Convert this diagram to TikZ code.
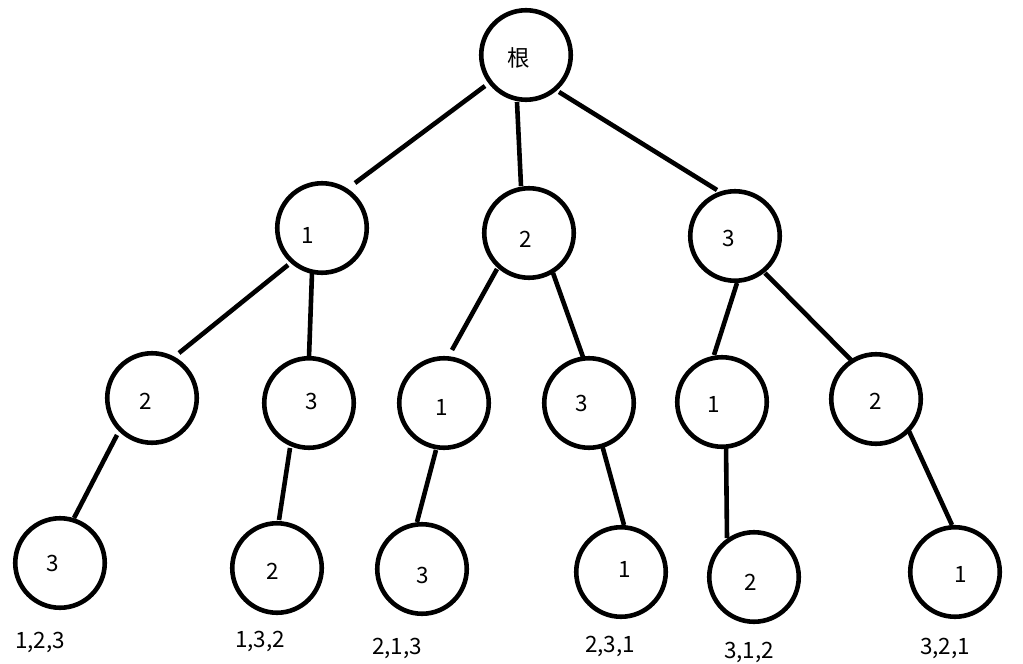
\documentclass[tikz,border=0pt]{standalone}
\usepackage{fontspec}
\setmainfont{Noto Sans CJK SC}
\usetikzlibrary{calc}
\begin{document}
\begin{tikzpicture}[x=1pt,y=-1pt,
  vtx/.style={circle,draw,line width=4.6pt,minimum size=89.5pt,inner sep=0pt,outer sep=0pt},
  edge/.style={line width=4.6pt},
  txt/.style={font=\fontsize{22.5}{26}\selectfont,inner sep=0pt},
  seq/.style={font=\fontsize{22.5}{26}\selectfont,anchor=base,inner sep=0pt}]
\useasboundingbox[fill=white] (0,0) rectangle (1023,664);
% level 0
\node[vtx,label={[txt,xshift=-7pt,yshift=-3pt]center:根}] (root) at (526,55) {};
% level 1
\node[vtx,label={[txt,xshift=-14pt,yshift=-7pt]center:1}] (a1) at (322,228) {};
\node[vtx,label={[txt,xshift=-3pt,yshift=-6pt]center:2}] (a2) at (529,233) {};
\node[vtx,label={[txt,xshift=-6pt,yshift=-2pt]center:3}] (a3) at (735,236) {};
% level 2
\node[vtx,label={[txt,xshift=-6pt,yshift=-3pt]center:2}] (b1) at (152,398) {};
\node[vtx,label={[txt,xshift=3pt,yshift=2pt]center:3}] (b2) at (309,403) {};
\node[vtx,label={[txt,xshift=-2pt,yshift=-4pt]center:1}] (b3) at (444,403) {};
\node[vtx,label={[txt,xshift=-7pt,yshift=0pt]center:3}] (b4) at (589,403) {};
\node[vtx,label={[txt,xshift=-8pt,yshift=-2pt]center:1}] (b5) at (722,402) {};
\node[vtx,label={[txt,xshift=0pt,yshift=-2pt]center:2}] (b6) at (876,399) {};
% level 3
\node[vtx,label={[txt,xshift=-7pt,yshift=0pt]center:3}] (c1) at (60,563) {};
\node[vtx,label={[txt,xshift=-4pt,yshift=-3pt]center:2}] (c2) at (277,568) {};
\node[vtx,label={[txt,xshift=1pt,yshift=-6pt]center:3}] (c3) at (422,569) {};
\node[vtx,label={[txt,xshift=4pt,yshift=3pt]center:1}] (c4) at (621,572) {};
\node[vtx,label={[txt,xshift=-3pt,yshift=-5pt]center:2}] (c5) at (754,577) {};
\node[vtx,label={[txt,xshift=6pt,yshift=-2pt]center:1}] (c6) at (955,572) {};
% permutations
\node[seq] (p1) at (40,648) {1,2,3};
\node[seq] (p2) at (260,647) {1,3,2};
\node[seq] (p3) at (397,654) {2,1,3};
\node[seq] (p4) at (610,652) {2,3,1};
\node[seq] (p5) at (749,658) {3,1,2};
\node[seq] (p6) at (945,654) {3,2,1};
% connectors
\draw[edge] ($(root)+(-41,31)$) -- ($(a1)+(33,-45)$);
\draw[edge] ($(root)+(-9,47)$) -- ($(a2)+(-8,-47)$);
\draw[edge] ($(root)+(33,37)$) -- ($(a3)+(-18,-46)$);
\draw[edge] ($(a1)+(-34,37)$) -- ($(b1)+(27,-45)$);
\draw[edge] ($(a1)+(-10,45)$) -- ($(b2)+(0,-46)$);
\draw[edge] ($(a2)+(-32,36)$) -- ($(b3)+(8,-53)$);
\draw[edge] ($(a2)+(24,40)$) -- ($(b4)+(-6,-46)$);
\draw[edge] ($(a3)+(2,47)$) -- ($(b5)+(-8,-47)$);
\draw[edge] ($(a3)+(30,37)$) -- ($(b6)+(-23,-37)$);
\draw[edge] ($(b1)+(-35,37)$) -- ($(c1)+(14,-45)$);
\draw[edge] ($(b2)+(-19,45)$) -- ($(c2)+(2,-48)$);
\draw[edge] ($(b3)+(-8,47)$) -- ($(c3)+(-5,-47)$);
\draw[edge] ($(b4)+(13,42)$) -- ($(c4)+(3,-47)$);
\draw[edge] ($(b5)+(4,43)$) -- ($(c5)+(-27,-39)$);
\draw[edge] ($(b6)+(32,30)$) -- ($(c6)+(-3,-47)$);
\end{tikzpicture}
\end{document}
